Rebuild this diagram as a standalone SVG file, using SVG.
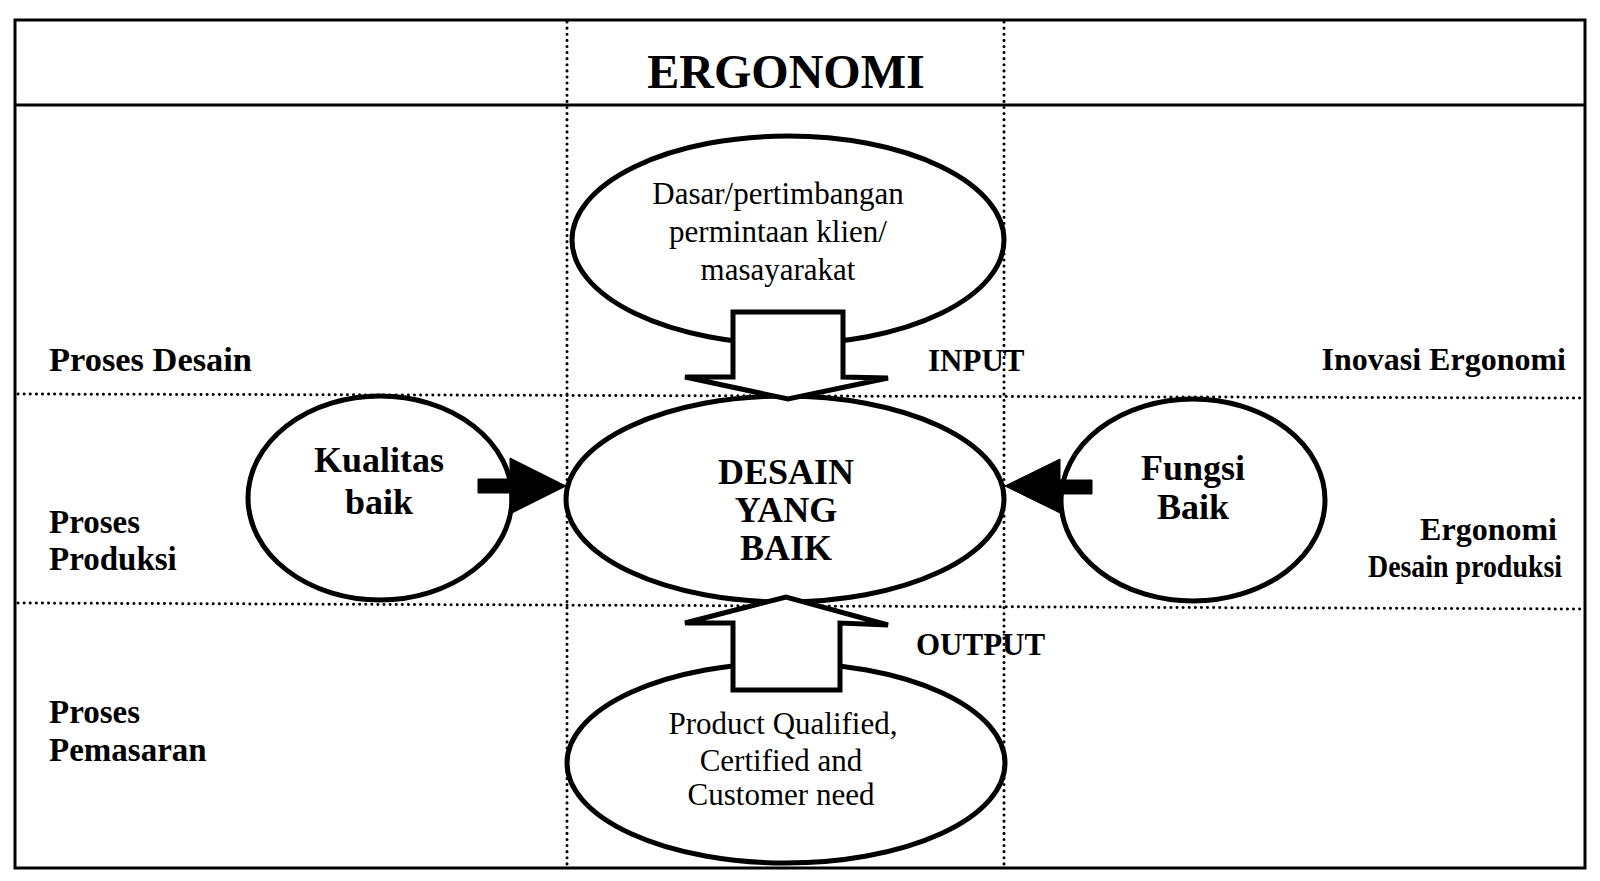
<svg xmlns="http://www.w3.org/2000/svg" width="1600" height="881" viewBox="0 0 1600 881">
<style>
  .frame { fill: none; stroke: #000; stroke-width: 3; }
  .dot { fill: none; stroke: #000; stroke-width: 3; stroke-linecap: round; stroke-dasharray: 0.1 6; }
  .node { fill: #fff; stroke: #000; stroke-width: 5; }
  .hollow { fill: #fff; stroke: #000; stroke-width: 5; stroke-linejoin: miter; }
  .solid { fill: #000; stroke: #000; stroke-width: 1; }
  .b { font-family: "Liberation Serif", "Times New Roman", serif; font-weight: bold; fill: #000; }
  .r { font-family: "Liberation Serif", "Times New Roman", serif; fill: #000; }
</style>
<rect width="1600" height="881" fill="#fff"/>
<g id="grid">
  <rect class="frame" x="15" y="20" width="1570" height="848"/>
  <line class="frame" x1="15" y1="105" x2="1585" y2="105"/>
  <line class="dot" x1="567" y1="22" x2="567" y2="866"/>
  <line class="dot" x1="1004" y1="22" x2="1004" y2="866"/>
  <line class="dot" x1="18" y1="394" x2="1582" y2="398"/>
  <line class="dot" x1="18" y1="603" x2="1582" y2="609"/>
</g>
<g id="title">
  <text class="b" x="786" y="88" font-size="48" text-anchor="middle">ERGONOMI</text>
</g>
<g id="labels-left">
  <text class="b" x="49" y="371" font-size="33" textLength="203" lengthAdjust="spacingAndGlyphs">Proses Desain</text>
  <text class="b" x="49" y="533" font-size="33">Proses</text>
  <text class="b" x="49" y="570" font-size="33">Produksi</text>
  <text class="b" x="49" y="723" font-size="33">Proses</text>
  <text class="b" x="49" y="761" font-size="33">Pemasaran</text>
</g>
<g id="labels-right">
  <text class="b" x="1566" y="370" font-size="32" text-anchor="end">Inovasi Ergonomi</text>
  <text class="b" x="1557" y="540" font-size="32" text-anchor="end">Ergonomi</text>
  <text class="b" x="1562" y="577" font-size="32" text-anchor="end" textLength="194" lengthAdjust="spacingAndGlyphs">Desain produksi</text>
</g>
<g id="node-input">
  <ellipse class="node" cx="788" cy="240" rx="216" ry="104"/>
  <text class="r" x="778" y="204" font-size="31" text-anchor="middle">Dasar/pertimbangan</text>
  <text class="r" x="778" y="242" font-size="31" text-anchor="middle">permintaan klien/</text>
  <text class="r" x="778" y="280" font-size="31" text-anchor="middle">masayarakat</text>
</g>
<g id="node-output">
  <ellipse class="node" cx="786" cy="763" rx="219" ry="100"/>
  <text class="r" x="783" y="734" font-size="31" text-anchor="middle">Product Qualified,</text>
  <text class="r" x="781" y="771" font-size="31" text-anchor="middle">Certified and</text>
  <text class="r" x="781" y="805" font-size="31" text-anchor="middle">Customer need</text>
</g>
<g id="node-desain">
  <ellipse class="node" cx="785" cy="499" rx="219" ry="103"/>
  <text class="b" x="786" y="484" font-size="36" text-anchor="middle">DESAIN</text>
  <text class="b" x="786" y="522" font-size="36" text-anchor="middle">YANG</text>
  <text class="b" x="786" y="560" font-size="36" text-anchor="middle">BAIK</text>
</g>
<g id="node-kualitas">
  <ellipse class="node" cx="380" cy="498" rx="132" ry="102"/>
  <text class="b" x="379" y="472" font-size="36" text-anchor="middle">Kualitas</text>
  <text class="b" x="379" y="514" font-size="36" text-anchor="middle">baik</text>
</g>
<g id="node-fungsi">
  <ellipse class="node" cx="1193" cy="500" rx="132" ry="101"/>
  <text class="b" x="1193" y="480" font-size="36" text-anchor="middle">Fungsi</text>
  <text class="b" x="1193" y="519" font-size="36" text-anchor="middle">Baik</text>
</g>
<g id="text-io">
  <text class="b" x="928" y="371" font-size="31">INPUT</text>
  <text class="b" x="916" y="655" font-size="31">OUTPUT</text>
</g>
<g id="connectors">
  <polygon class="hollow" points="733,312 843,312 843,377 888,378 788,399 685,377 733,377"/>
  <polygon class="hollow" points="733,690 840,690 840,623 888,625 786,597 685,623 733,623"/>
  <polygon class="solid" points="478,479 510,479 510,458 566,486 510,514 510,493 478,493"/>
  <polygon class="solid" points="1092,480 1060,480 1060,459 1005,486 1060,513 1060,494 1092,494"/>
</g>
</svg>
